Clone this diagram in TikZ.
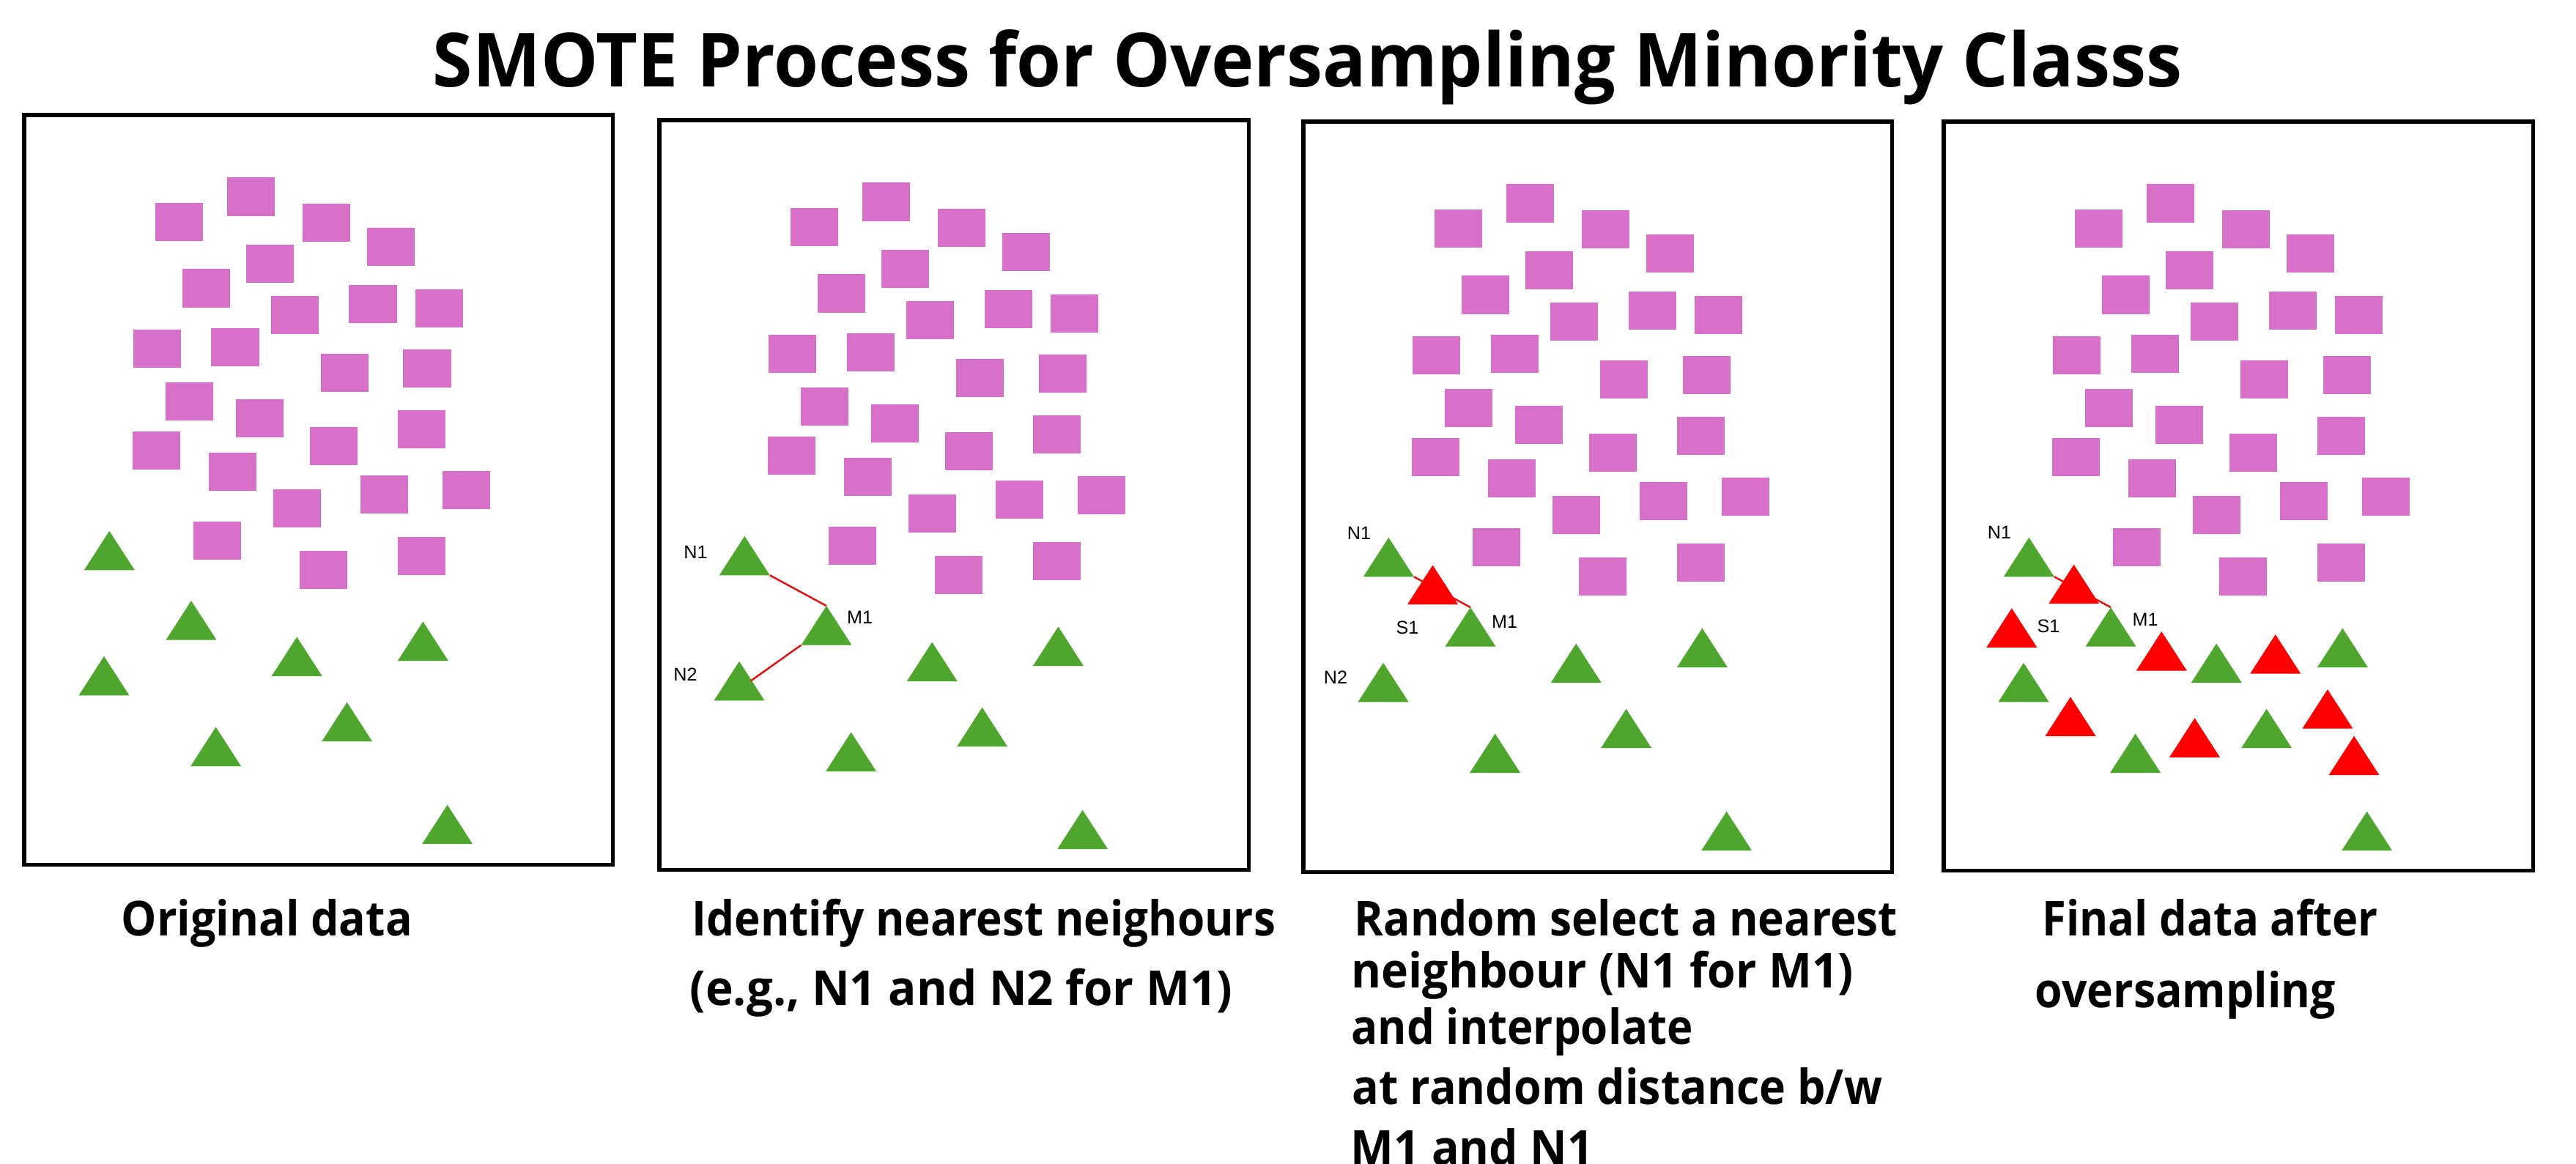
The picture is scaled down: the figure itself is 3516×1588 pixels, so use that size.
\documentclass[tikz,border=0pt]{standalone}
\usepackage{fontspec}
\setmainfont{Open Sans}
\newfontfamily\labelfont{Liberation Sans}
\usetikzlibrary{calc}
\definecolor{pinkc}{RGB}{216,111,201}
\definecolor{greenc}{RGB}{79,166,46}
\definecolor{redc}{RGB}{255,0,0}
\definecolor{linec}{RGB}{225,20,20}
\tikzset{
  rbox/.style={fill=pinkc, minimum width=0.65cm, minimum height=0.52cm, inner sep=0pt, outer sep=0pt},
  panelbox/.style={draw=black, line width=0.055cm},
  titletext/.style={font=\bfseries\fontsize{29}{35}\selectfont, anchor=base, inner sep=0pt},
  captext/.style={font=\bfseries\fontsize{18.7}{22}\selectfont, anchor=base west, inner sep=0pt},
  lbltext/.style={font=\labelfont\fontsize{7.15}{8}\selectfont, anchor=base, inner sep=0pt},
  nnline/.style={draw=linec, line width=0.025cm},
}
% triangle: name, base-centre x, base-centre y, colour
\newcommand\tri[4]{%
  \fill[#4] (#2-34.5,#3) -- (#2,#3-53.5) -- (#2+34.5,#3) -- cycle;
  \coordinate (#1-a) at (#2,#3-53.5);
  \coordinate (#1-l) at (#2-34.5,#3);
  \coordinate (#1-r) at (#2+34.5,#3);
  \coordinate (#1-m) at (#2+16,#3-27);
}
\newcommand\cloud[1]{%
  \foreach \px/\py [count=\i] in {214.7/149, 312.3/114.5, 415.6/150.3, 503.7/183.4,
      251.7/239.5, 338.7/205.7, 372.9/276, 479/261.2, 569.9/267.3, 184.4/322,
      291/320, 440.8/355.2, 553/349.1, 228.7/393.7, 324.1/417.4, 183.8/460.6,
      425.1/454.6, 545.2/432.2, 287.6/489.7, 375.2/539.8, 494.7/520.8,
      606.9/514.7, 266.9/584.4, 411.6/624.3, 545.2/605.3}
    {\node[rbox] (#1r\i) at (\px,\py) {};}
}
\newcommand\greens[1]{%
  \tri{#1n1}{119.3}{624.3}{greenc}
  \tri{#1m1}{231}{719.6}{greenc}
  \tri{#1n2}{112}{795.3}{greenc}
  \tri{#1g4}{375.2}{769}{greenc}
  \tri{#1g5}{547.4}{748}{greenc}
  \tri{#1g6}{443.6}{858.2}{greenc}
  \tri{#1g7}{264.6}{892}{greenc}
  \tri{#1g8}{580.6}{998.2}{greenc}
}
% fit text horizontally to a width given in picture px (1px = 0.01cm)
\newsavebox\fitbox
\newcommand\fitw[2]{%
  \sbox\fitbox{#2}%
  \pgfmathsetmacro\fitr{#1*0.284528/\the\wd\fitbox}%
  \scalebox{\fitr}[1]{\usebox\fitbox}}
\begin{document}
\begin{tikzpicture}[x=0.01cm, y=-0.01cm]
\path[use as bounding box] (0,0) rectangle (3516,1588);
\clip (0,0) rectangle (3516,1588);
\fill[white] (0,0) rectangle (3516,1588);

\node[titletext] (title) at (1784.5,119) {\fitw{2386}{SMOTE Process for Oversampling Minority Classs}};

% Panel 1
\begin{scope}[shift={(30,154)}]
  \draw[panelbox] (2.75,2.75) rectangle (806.25,1026.25);
  \cloud{pa}
  \greens{pa}
\end{scope}

% Panel 2
\begin{scope}[shift={(897,161)}]
  \draw[panelbox] (2.75,2.75) rectangle (807.25,1026.25);
  \cloud{pb}
  \greens{pb}
  \draw[nnline] (pbn1-r) -- (pbm1-a);
  \draw[nnline] (pbm1-l) -- (pbn2-m);
  \node[lbltext] (pbN1) at (52.5,601) {N1};
  \node[lbltext] (pbM1) at (276.5,690) {M1};
  \node[lbltext] (pbN2) at (38.5,768) {N2};
\end{scope}

% Panel 3
\begin{scope}[shift={(1776,163)}]
  \draw[panelbox] (2.75,2.75) rectangle (806.25,1027.25);
  \cloud{pc}
  \greens{pc}
  \draw[nnline] (pcn1-r) -- (pcm1-a);
  \tri{pcs1}{179.5}{662}{redc}
  \node[lbltext] (pcN1) at (79,573) {N1};
  \node[lbltext] (pcS1) at (145,702) {S1};
  \node[lbltext] (pcM1) at (277.5,694) {M1};
  \node[lbltext] (pcN2) at (47,770) {N2};
\end{scope}

% Panel 4
\begin{scope}[shift={(2650,163)}]
  \draw[panelbox] (2.75,2.75) rectangle (807.25,1025.25);
  \cloud{pd}
  \greens{pd}
  \draw[nnline] (pdn1-r) -- (pdm1-a);
  \tri{pds1}{180.6}{661.2}{redc}
  \tri{pdr2}{95.8}{720.8}{redc}
  \tri{pdr3}{300.3}{752.5}{redc}
  \tri{pdr4}{455.7}{756.6}{redc}
  \tri{pdr5}{176}{841.8}{redc}
  \tri{pdr6}{345.5}{870.8}{redc}
  \tri{pdr7}{526.9}{831.6}{redc}
  \tri{pdr8}{563}{895.2}{redc}
  \node[lbltext] (pdN1) at (79,572) {N1};
  \node[lbltext] (pdS1) at (146,700) {S1};
  \node[lbltext] (pdM1) at (278,691.6) {M1};
\end{scope}

% Captions
\node[captext] (c1) at (165,1277) {\fitw{397}{Original data}};
\node[captext] (c2a) at (944,1277) {\fitw{796}{Identify nearest neighours}};
\node[captext] (c2b) at (941,1372) {\fitw{740}{(e.g., N1 and N2 for M1)}};
\node[captext] (c3a) at (1848,1277) {\fitw{741}{Random select a nearest}};
\node[captext] (c3b) at (1844,1348) {\fitw{685}{neighbour (N1 for M1)}};
\node[captext] (c3c) at (1844,1425) {\fitw{466}{and interpolate}};
\node[captext] (c3d) at (1845,1507) {\fitw{723}{at random distance b/w}};
\node[captext] (c3e) at (1843,1590) {\fitw{331}{M1 and N1}};
\node[captext] (c4a) at (2787,1277) {\fitw{458}{Final data after}};
\node[captext] (c4b) at (2777,1375) {\fitw{410}{oversampling}};
\end{tikzpicture}
\end{document}
